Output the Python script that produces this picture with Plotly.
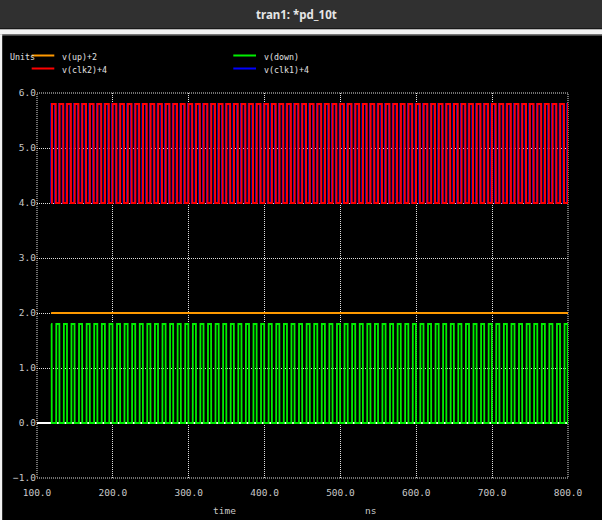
import plotly.graph_objects as go

# ---------------- data ----------------
T_START = 118.6          # ns, first simulated sample shown
T_STOP = 800.0           # ns
EDGE = 0.15              # ns, rise/fall time

# pulse descriptions: low level, high level, first rising edge, high time, period
CLK2 = {"low": 4.0, "high": 5.8, "first_rise": 119.6, "high_time": 5.0, "period": 10.0}
CLK1 = {"low": 4.0, "high": 5.8, "first_rise": 118.9, "high_time": 5.0, "period": 10.0}
DOWN = {"low": 0.0, "high": 1.8, "first_rise": 125.3, "high_time": 4.2, "period": 10.0}
DOWN_INITIAL_FALL = 119.3   # v(down) starts high and drops right after the start
UP_LEVEL = 2.0              # v(up)+2 stays flat

SERIES_NAMES = ["v(up)+2", "v(down)", "v(clk2)+4", "v(clk1)+4"]
SERIES_COLORS = ["#ff9900", "#00ee00", "#ff0000", "#0000ff"]

X_TICKS = [100, 200, 300, 400, 500, 600, 700, 800]
Y_TICKS = [-1, 0, 1, 2, 3, 4, 5, 6]
X_RANGE = [100, 800]
Y_RANGE = [-1, 6]


def pulse_train(p, initial_fall=None):
    if initial_fall is None:
        t, v = [T_START], [p["low"]]
    else:
        t, v = [T_START, initial_fall, initial_fall + EDGE], [p["high"], p["high"], p["low"]]
    r = p["first_rise"]
    while r < T_STOP:
        f = r + p["high_time"]
        for tt, vv in ((r, p["low"]), (r + EDGE, p["high"]), (f, p["high"]), (f + EDGE, p["low"])):
            if T_START <= tt <= T_STOP:
                t.append(tt)
                v.append(vv)
        r += p["period"]
    t.append(T_STOP)
    v.append(v[-1])
    return t, v


t_up, v_up = [T_START, T_STOP], [UP_LEVEL, UP_LEVEL]
t_dn, v_dn = pulse_train(DOWN, DOWN_INITIAL_FALL)
t_c2, v_c2 = pulse_train(CLK2)
t_c1, v_c1 = pulse_train(CLK1)

# ---------------- layout geometry ----------------
W, H = 602, 520
L, R, T, B = 37, 34, 93, 42
PW, PH = W - L - R, H - T - B


def px(x):
    return (x - L) / PW


def py(y):
    return (H - B - y) / PH


fig = go.Figure()
fig.add_trace(go.Scatter(x=t_up, y=v_up, mode="lines", line=dict(color=SERIES_COLORS[0], width=2), name=SERIES_NAMES[0]))
fig.add_trace(go.Scatter(x=t_dn, y=v_dn, mode="lines", line=dict(color=SERIES_COLORS[1], width=1.8), name=SERIES_NAMES[1]))
fig.add_trace(go.Scatter(x=t_c1, y=v_c1, mode="lines", line=dict(color=SERIES_COLORS[3], width=2), name=SERIES_NAMES[3]))
fig.add_trace(go.Scatter(x=t_c2, y=v_c2, mode="lines", line=dict(color=SERIES_COLORS[2], width=2), name=SERIES_NAMES[2]))

grid_col = "#e0e0e0"
tick_font = dict(family="DejaVu Sans Mono", size=9.5, color="#c8c8c8")

fig.update_xaxes(range=X_RANGE, tickvals=X_TICKS, tickformat=".1f", showgrid=True,
                 gridcolor=grid_col, griddash="1px,1px", gridwidth=1, zeroline=False,
                 showline=False, ticks="outside", ticklen=6, tickcolor="rgba(0,0,0,0)",
                 tickfont=tick_font, fixedrange=True)
fig.update_yaxes(range=Y_RANGE, tickvals=Y_TICKS, tickformat=".1f", showgrid=True,
                 gridcolor=grid_col, griddash="1px,1px", gridwidth=1, zeroline=True,
                 zerolinecolor="#ffffff", zerolinewidth=2, showline=False, ticks="",
                 tickfont=tick_font, fixedrange=True)

shapes = []
# window chrome
shapes.append(dict(type="rect", xref="paper", yref="paper", x0=px(0), x1=px(W), y0=py(28.5), y1=py(0),
                   fillcolor="#303030", line=dict(width=0), layer="below"))
shapes.append(dict(type="rect", xref="paper", yref="paper", x0=px(0), x1=px(W), y0=py(34.3), y1=py(29.3),
                   fillcolor="#f2f2f2", line=dict(width=0), layer="below"))
shapes.append(dict(type="rect", xref="paper", yref="paper", x0=px(0), x1=px(W), y0=py(35.6), y1=py(34.3),
                   fillcolor="#8a8a8a", line=dict(width=0), layer="below"))
shapes.append(dict(type="rect", xref="paper", yref="paper", x0=px(0), x1=px(2.2), y0=py(H), y1=py(34.3),
                   fillcolor="#f2f2f2", line=dict(width=0), layer="below"))
# dotted frame
shapes.append(dict(type="rect", xref="paper", yref="paper", x0=0, x1=1, y0=0, y1=1,
                   line=dict(color=grid_col, width=1, dash="1px,1px"), layer="below"))

# legend (ngspice style)
annotations = []
col_x = [(31.7, 54.3, 60), (233.3, 256, 262)]
order = [[0, 2], [1, 3]]  # column -> series index per row
for col, (lx0, lx1, tx) in enumerate(col_x):
    for row, yy in enumerate([55.5, 68.5]):
        i = order[col][row]
        shapes.append(dict(type="line", xref="paper", yref="paper", x0=px(lx0), x1=px(lx1), y0=py(yy), y1=py(yy),
                           line=dict(color=SERIES_COLORS[i], width=2)))
        annotations.append(dict(xref="paper", yref="paper", x=px(tx), y=py(yy + 1.5), text=SERIES_NAMES[i],
                                showarrow=False, xanchor="left", yanchor="middle",
                                font=dict(family="DejaVu Sans Mono", size=8.3, color="#e0e0e0")))

annotations.append(dict(xref="paper", yref="paper", x=px(8), y=py(57), text="Units", showarrow=False,
                        xanchor="left", yanchor="middle",
                        font=dict(family="DejaVu Sans Mono", size=8.3, color="#e0e0e0")))
annotations.append(dict(xref="paper", yref="paper", x=px(224.5), y=py(511), text="time", showarrow=False,
                        xanchor="center", yanchor="middle", font=tick_font))
annotations.append(dict(xref="paper", yref="paper", x=px(370), y=py(511), text="ns", showarrow=False,
                        xanchor="center", yanchor="middle", font=tick_font))
annotations.append(dict(xref="paper", yref="paper", x=px(296), y=py(14), text="<b>tran1: *pd_10t</b>",
                        showarrow=False, xanchor="center", yanchor="middle",
                        font=dict(family="Noto Sans", size=11.5, color="#e6e6e6")))

fig.update_layout(width=W, height=H, margin=dict(l=L, r=R, t=T, b=B, pad=0),
                  paper_bgcolor="#000000", plot_bgcolor="#000000", showlegend=False,
                  shapes=shapes, annotations=annotations)

fig.write_html("out.html", config={"displayModeBar": False},
               post_script="document.body.style.margin='0';document.body.style.overflow='hidden';"
                           "document.documentElement.style.overflow='hidden';")
